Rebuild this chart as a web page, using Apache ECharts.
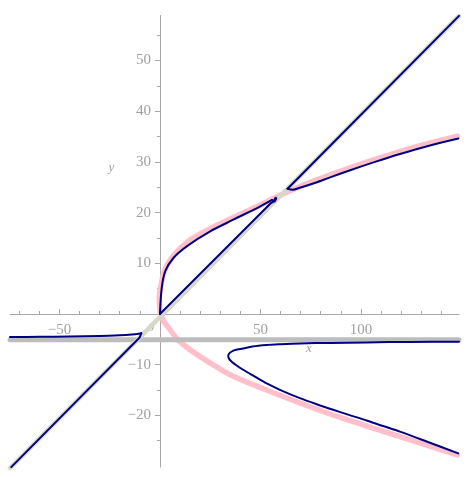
<!DOCTYPE html>
<html><head><meta charset="utf-8">
<script src="https://cdn.jsdelivr.net/npm/echarts@6/dist/echarts.min.js"></script>
<style>html,body{margin:0;padding:0;background:#fff}#c{width:474px;height:478px}</style>
</head><body><div id="c"></div>
<script>
// ---- axis extents & ticks ----
const xMin = -74.6, xMax = 148.8;
const yMin = -30.2, yMax = 58.9;
const xTicksMajor = [-50, 50, 100];
const xTicksMinor = [-70, -60, -40, -30, -20, -10, 10, 20, 30, 40, 60, 70, 80, 90, 110, 120, 130, 140];
const yTicksMajor = [-20, -10, 10, 20, 30, 40, 50];
const yTicksMinor = [-25, -15, -5, 5, 15, 25, 35, 45, 55];

// ---- asymptotes ----
const asymHorizontal = [[-74.6, -5.1], [148.8, -5.1]];
const asymDiagonal = [[-74.6, -30.4], [148.8, 58.8]];
const asymParabola = [
  [148, 35.1], [133, 33.6], [119, 32.0], [107, 30.5], [95, 28.9], [85, 27.5], [77, 26.3],
  [70, 25.2], [63, 24.0], [57, 22.9], [50, 21.5], [40, 19.7], [30, 17.8], [22, 16.2],
  [15, 14.6], [9, 12.5], [5, 10.6], [2, 8.2], [0.5, 5.6], [-0.3, 3.5], [-0.2, 1.8],
  [0.3, 0], [1.8, -1.4], [4.1, -2.6], [8.3, -4.8], [13.5, -6.6], [20, -8.4], [28, -10.4],
  [36.5, -12.3], [53, -15.0], [70, -17.6], [86, -19.9], [103, -22.1], [125, -24.9], [148, -27.8]
];

// ---- implicit curve branches ----
const curveLeftFlat = [
  [-74.6, -4.55], [-60, -4.5], [-45, -4.45], [-30, -4.35], [-20, -4.2], [-14, -4.05],
  [-10.5, -3.9], [-9.3, -3.8]
];
const curveLeftDiag = [[-9.3, -3.8], [-10.2, -4.7], [-40, -16.6], [-74.0, -30.2]];
const curveLoopUpper = [
  [0, 0], [0.9, 5.2], [2.7, 8.5], [6.8, 11.1], [13.5, 13.4], [25, 16.3],
  [36.5, 18.6], [49.7, 21.2], [55.8, 22.5]
];
const curveLoopLower = [[55.8, 22.5], [56.3, 22.1], [55, 21.8], [0, 0]];
const curveLoopDot = [[56.9, 22.3], [57.6, 22.8]];
const curveUpperDiag = [[148.8, 58.8], [63.5, 24.7]];
const curveUpperArc = [
  [63.5, 24.7], [66, 24.5], [70, 24.95], [77, 25.85], [85, 27.0], [95, 28.4], [107, 30.0],
  [119, 31.5], [133, 33.1], [148.5, 34.6]
];
const curveLowerRight = [
  [148.8, -5.45], [125, -5.5], [102.8, -5.6], [85, -5.7], [69.65, -5.8], [60, -5.95],
  [53.1, -6.1], [46, -6.4], [41.4, -6.8], [37.5, -7.1], [35.7, -7.4], [34.3, -7.9],
  [34, -8.4], [34.5, -8.9], [35.7, -9.4], [38, -10.1], [41.4, -11.0], [47, -12.3],
  [53.1, -13.7], [60, -15.0], [69.65, -16.6], [78, -17.8], [86.2, -18.9], [94, -19.9],
  [102.8, -21.0], [111, -22.1], [119.4, -23.2], [133, -25.2], [148.4, -27.5]
];

const NAVY = '#000080', PINK = '#ffc0cb', GRAY = '#bdbdbd', DIAG = '#d6d8c8';
const AX = '#a8a8a8', TXT = '#a0a0a0';
const fmt = v => (v < 0 ? '\u2212' : '') + Math.abs(v);
const lbl = { color: TXT, fontFamily: '"Liberation Serif", "DejaVu Serif", serif', fontSize: 15 };

// grid box and the offsets that put the axes through the origin
const G = { left: 10, right: 15, top: 15.4, bottom: 10.9 };
const W = 474 - G.left - G.right, H = 478 - G.top - G.bottom;
const yAxisOffset = -((0 - xMin) / (xMax - xMin)) * W;
const xAxisOffset = -((0 - yMin) / (yMax - yMin)) * H;

function line(data, color, width, smooth) {
  return {
    type: 'line', data: data, xAxisIndex: 0, yAxisIndex: 0,
    symbol: 'none', showSymbol: false, smooth: smooth || false, clip: false,
    silent: true, animation: false,
    lineStyle: { color: color, width: width, cap: 'round', join: 'round' }
  };
}

const chart = echarts.init(document.getElementById('c'), null, { renderer: 'canvas' });
chart.setOption({
  animation: false,
  backgroundColor: '#ffffff',
  grid: Object.assign({ containLabel: false, outerBoundsMode: 'none' }, G),
  xAxis: [
    {
      type: 'value', min: xMin, max: xMax, position: 'bottom', offset: xAxisOffset,
      axisLine: { onZero: false, lineStyle: { color: AX, width: 1 } },
      axisTick: { customValues: xTicksMajor, inside: true, length: 5, lineStyle: { color: AX } },
      axisLabel: Object.assign({ customValues: xTicksMajor, formatter: fmt, margin: 9 }, lbl),
      splitLine: { show: false }
    },
    {
      type: 'value', min: xMin, max: xMax, position: 'bottom', offset: xAxisOffset,
      axisLine: { show: false, onZero: false },
      axisTick: { customValues: xTicksMinor, inside: true, length: 3, lineStyle: { color: AX } },
      axisLabel: { show: false }, splitLine: { show: false }
    }
  ],
  yAxis: [
    {
      type: 'value', min: yMin, max: yMax, position: 'left', offset: yAxisOffset,
      axisLine: { onZero: false, lineStyle: { color: AX, width: 1 } },
      axisTick: { customValues: yTicksMajor, inside: false, length: 5, lineStyle: { color: AX } },
      axisLabel: Object.assign({ customValues: yTicksMajor, formatter: fmt, margin: 9 }, lbl),
      splitLine: { show: false }
    },
    {
      type: 'value', min: yMin, max: yMax, position: 'left', offset: yAxisOffset,
      axisLine: { show: false, onZero: false },
      axisTick: { customValues: yTicksMinor, inside: false, length: 3, lineStyle: { color: AX } },
      axisLabel: { show: false }, splitLine: { show: false }
    }
  ],
  series: [
    line(asymParabola, PINK, 5.5, 0.3),
    line(asymHorizontal, GRAY, 5),
    line(asymDiagonal, DIAG, 4.5),
    line(curveLeftFlat, NAVY, 2, 0.3),
    line(curveLeftDiag, NAVY, 2),
    line(curveLoopUpper, NAVY, 2, 0.3),
    line(curveLoopLower, NAVY, 2),
    line(curveLoopDot, NAVY, 3),
    line(curveUpperDiag, NAVY, 2),
    line(curveUpperArc, NAVY, 2, 0.3),
    line(curveLowerRight, NAVY, 2, 0.3)
  ],
  graphic: [
    { type: 'text', x: 309, y: 349, silent: true,
      style: { text: 'x', font: 'italic 13px "Liberation Serif"', fill: TXT, align: 'center', verticalAlign: 'middle' } },
    { type: 'text', x: 111.5, y: 167.5, silent: true,
      style: { text: 'y', font: 'italic 13px "Liberation Serif"', fill: TXT, align: 'center', verticalAlign: 'middle' } },
    { type: 'text', x: 151, y: 328, silent: true,
      style: { text: '0', font: 'italic 12px "Liberation Serif"', fill: TXT, align: 'center', verticalAlign: 'middle' } }
  ]
});
</script>
</body></html>
